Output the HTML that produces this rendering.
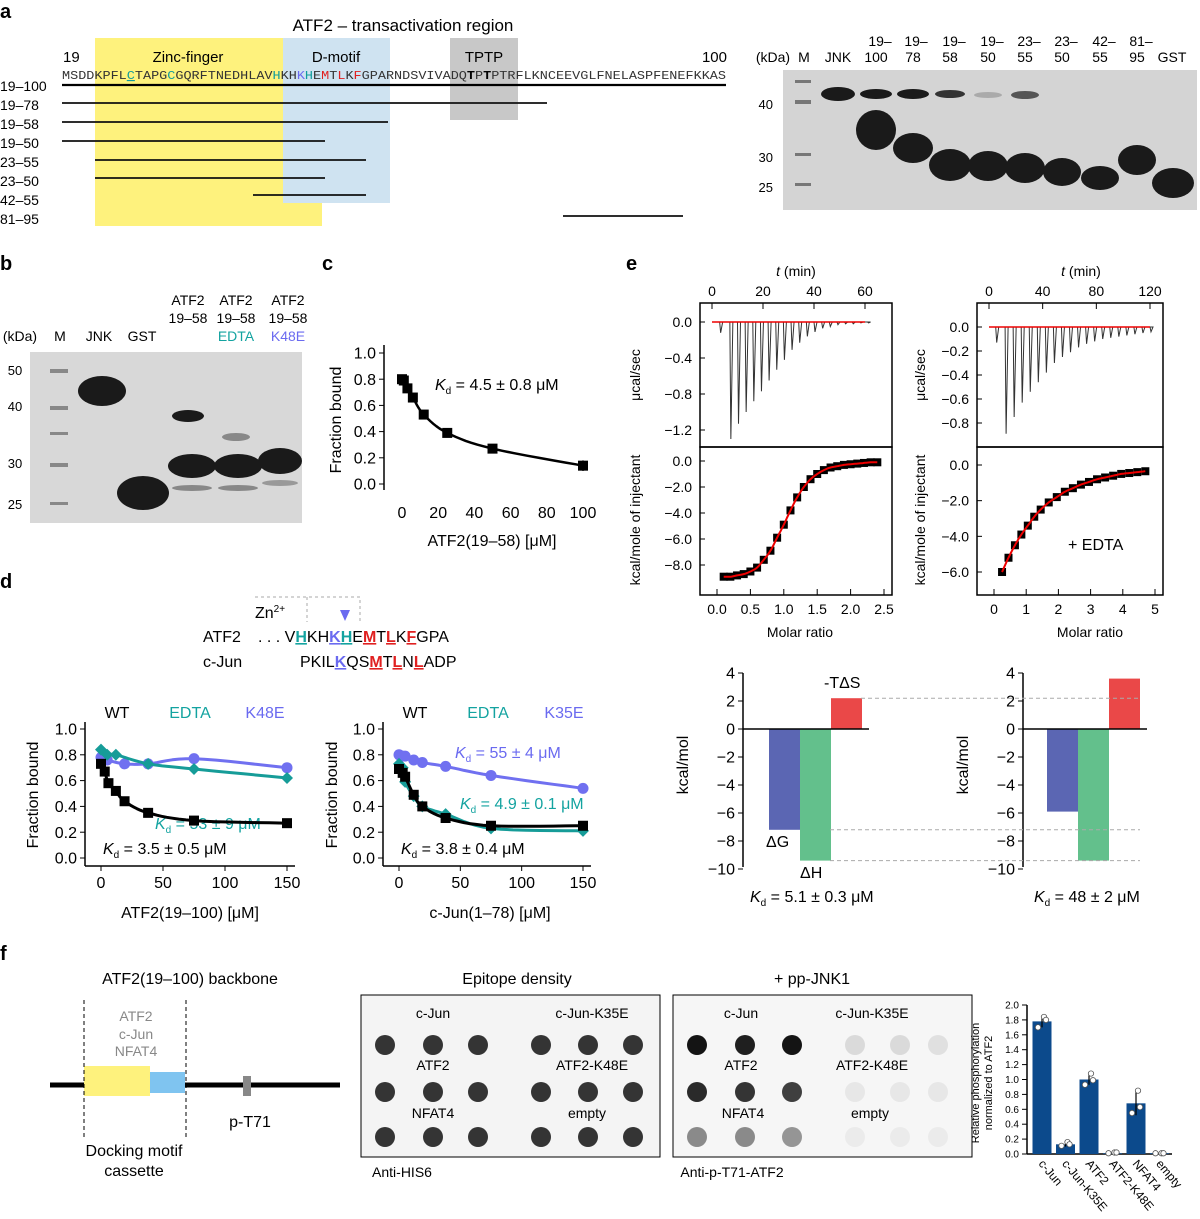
<!DOCTYPE html>
<html><head><meta charset="utf-8">
<style>
body{margin:0;background:#fff;}
svg{display:block;font-family:"Liberation Sans",Arial,sans-serif;}
.m{font-family:"Liberation Mono",monospace;}
</style></head>
<body>
<svg id="fig" width="1200" height="1219" viewBox="0 0 1200 1219">
<!-- Panel a -->
<g>
<text x="0" y="18" font-size="20" font-weight="bold">a</text>
<text x="403" y="31" font-size="17" text-anchor="middle">ATF2 – transactivation region</text>
<rect x="95" y="38" width="227" height="188" fill="#fef27d"/>
<rect x="283" y="38" width="107" height="165" fill="#cfe3f1"/>
<rect x="450" y="38" width="68" height="82" fill="#c8c8c8"/>
<text x="188" y="62" font-size="15" text-anchor="middle">Zinc-finger</text>
<text x="336" y="62" font-size="15" text-anchor="middle">D-motif</text>
<text x="484" y="62" font-size="15" text-anchor="middle">TPTP</text>
<text x="63" y="62" font-size="15">19</text>
<text x="727" y="62" font-size="15" text-anchor="end">100</text>
<text class="m" x="62" y="79" font-size="11.5" textLength="664" lengthAdjust="spacingAndGlyphs" fill="#333">MSDDKPFL<tspan fill="#109c9c" text-decoration="underline">C</tspan>TAPG<tspan fill="#109c9c">C</tspan>GQRFTNEDHLAV<tspan fill="#109c9c">H</tspan>KH<tspan fill="#6a6af0">K</tspan><tspan fill="#109c9c">H</tspan>E<tspan fill="#e02020">M</tspan>T<tspan fill="#e02020">L</tspan>K<tspan fill="#e02020">F</tspan>GPARNDSVIVADQ<tspan fill="#000" font-weight="bold">T</tspan>P<tspan fill="#000" font-weight="bold">T</tspan>PTRFLKNCEEVGLFNELASPFENEFKKAS</text>
<line x1="62" y1="85" x2="726" y2="85" stroke="#000" stroke-width="2.2"/>
<g font-size="14">
<text x="0" y="91">19–100</text><text x="0" y="110">19–78</text><text x="0" y="129">19–58</text><text x="0" y="148">19–50</text>
<text x="0" y="167">23–55</text><text x="0" y="186">23–50</text><text x="0" y="205">42–55</text><text x="0" y="224">81–95</text>
</g>
<g stroke="#111" stroke-width="1.7">
<line x1="62" y1="103" x2="547" y2="103"/><line x1="62" y1="122" x2="388" y2="122"/><line x1="62" y1="141" x2="325" y2="141"/>
<line x1="95" y1="160" x2="366" y2="160"/><line x1="95" y1="178" x2="325" y2="178"/><line x1="253" y1="195" x2="366" y2="195"/>
<line x1="563" y1="216" x2="683" y2="216"/>
</g>
<!-- gel a -->
<g font-size="14" text-anchor="middle">
<text x="773" y="62">(kDa)</text><text x="804" y="62">M</text><text x="838" y="62">JNK</text>
<text x="880" y="46">19–</text><text x="876" y="62">100</text><text x="916" y="46">19–</text><text x="913" y="62">78</text>
<text x="954" y="46">19–</text><text x="950" y="62">58</text><text x="992" y="46">19–</text><text x="988" y="62">50</text>
<text x="1029" y="46">23–</text><text x="1025" y="62">55</text><text x="1066" y="46">23–</text><text x="1062" y="62">50</text>
<text x="1104" y="46">42–</text><text x="1100" y="62">55</text><text x="1141" y="46">81–</text><text x="1137" y="62">95</text>
<text x="1172" y="62">GST</text>
</g>
<rect x="783" y="70" width="414" height="140" fill="#d4d4d4"/>
<g font-size="13" text-anchor="end"><text x="773" y="109">40</text><text x="773" y="162">30</text><text x="773" y="192">25</text></g>
<g fill="#777"><rect x="795" y="100" width="16" height="4"/><rect x="795" y="153" width="16" height="3"/><rect x="795" y="183" width="16" height="3"/><rect x="795" y="80" width="16" height="3"/></g>
<g fill="#1a1a1a">
<ellipse cx="838" cy="94" rx="17" ry="7"/><ellipse cx="876" cy="94" rx="16" ry="5"/><ellipse cx="913" cy="94" rx="16" ry="5"/>
<ellipse cx="950" cy="94" rx="15" ry="4" fill="#333"/><ellipse cx="1025" cy="95" rx="14" ry="4" fill="#555"/><ellipse cx="988" cy="95" rx="14" ry="3" fill="#aaa"/>
<ellipse cx="876" cy="130" rx="20" ry="20"/><ellipse cx="913" cy="148" rx="20" ry="15"/><ellipse cx="950" cy="165" rx="21" ry="16"/>
<ellipse cx="988" cy="166" rx="20" ry="15"/><ellipse cx="1025" cy="168" rx="20" ry="15"/><ellipse cx="1062" cy="172" rx="19" ry="14"/>
<ellipse cx="1100" cy="178" rx="19" ry="12"/><ellipse cx="1137" cy="160" rx="19" ry="15"/><ellipse cx="1173" cy="183" rx="21" ry="15"/>
</g>
</g>

<!-- Panel b -->
<g>
<text x="0" y="270" font-size="20" font-weight="bold">b</text>
<g font-size="14" text-anchor="middle">
<text x="20" y="341">(kDa)</text><text x="60" y="341">M</text><text x="99" y="341">JNK</text><text x="142" y="341">GST</text>
<text x="188" y="305">ATF2</text><text x="188" y="323">19–58</text>
<text x="236" y="305">ATF2</text><text x="236" y="323">19–58</text><text x="236" y="341" fill="#13a3a0">EDTA</text>
<text x="288" y="305">ATF2</text><text x="288" y="323">19–58</text><text x="288" y="341" fill="#6a6af0">K48E</text>
</g>
<rect x="30" y="352" width="272" height="171" fill="#d8d8d8"/>
<g font-size="13" text-anchor="middle"><text x="15" y="375">50</text><text x="15" y="411">40</text><text x="15" y="468">30</text><text x="15" y="509">25</text></g>
<g fill="#888"><rect x="50" y="369" width="18" height="4"/><rect x="50" y="406" width="18" height="4"/><rect x="50" y="463" width="18" height="4"/><rect x="50" y="502" width="18" height="3"/><rect x="50" y="432" width="18" height="3"/></g>
<g fill="#1a1a1a">
<ellipse cx="102" cy="391" rx="24" ry="15"/><ellipse cx="143" cy="493" rx="26" ry="17"/>
<ellipse cx="188" cy="416" rx="16" ry="6"/><ellipse cx="236" cy="437" rx="14" ry="4" fill="#888"/>
<ellipse cx="192" cy="466" rx="24" ry="12"/><ellipse cx="238" cy="466" rx="24" ry="12"/><ellipse cx="280" cy="461" rx="22" ry="13"/>
<ellipse cx="192" cy="488" rx="20" ry="3" fill="#888"/><ellipse cx="238" cy="488" rx="20" ry="3" fill="#888"/><ellipse cx="280" cy="483" rx="18" ry="3" fill="#999"/>
</g>
</g>

<!-- Panel c -->
<g id="pc">
<text x="322" y="270" font-size="20" font-weight="bold">c</text>
<text transform="translate(341,420) rotate(-90)" font-size="16" text-anchor="middle">Fraction bound</text>
<text x="492" y="546" font-size="16" text-anchor="middle">ATF2(19–58) [μM]</text>
<text x="435" y="390" font-size="16"><tspan font-style="italic">K</tspan><tspan font-size="10" dy="4">d</tspan><tspan dy="-4"> = 4.5 ± 0.8 μM</tspan></text>
</g>

<!-- Panel d -->
<g id="pd">
<text x="0" y="588" font-size="20" font-weight="bold">d</text>
<text x="255" y="618" font-size="16">Zn<tspan font-size="10" dy="-6">2+</tspan></text>
<path d="M255 597 H360 V622 M307 597 V622" fill="none" stroke="#aaa" stroke-dasharray="3,3"/>
<path d="M340 610 L350 610 L345 621 Z" fill="#6a6af0"/>
<text x="203" y="642" font-size="16">ATF2</text>
<text x="258" y="642" font-size="16">. . . V<tspan fill="#13a3a0" font-weight="bold" text-decoration="underline">H</tspan>KH<tspan fill="#6a6af0" font-weight="bold" text-decoration="underline">K</tspan><tspan fill="#13a3a0" font-weight="bold" text-decoration="underline">H</tspan>E<tspan fill="#e02020" font-weight="bold" text-decoration="underline">M</tspan>T<tspan fill="#e02020" font-weight="bold" text-decoration="underline">L</tspan>K<tspan fill="#e02020" font-weight="bold" text-decoration="underline">F</tspan>GPA</text>
<text x="203" y="667" font-size="16">c-Jun</text>
<text x="300" y="667" font-size="16">PKIL<tspan fill="#6a6af0" font-weight="bold" text-decoration="underline">K</tspan>QS<tspan fill="#e02020" font-weight="bold" text-decoration="underline">M</tspan>T<tspan fill="#e02020" font-weight="bold" text-decoration="underline">L</tspan>N<tspan fill="#e02020" font-weight="bold" text-decoration="underline">L</tspan>ADP</text>
<g font-size="16" text-anchor="middle">
<text x="117" y="718">WT</text><text x="190" y="718" fill="#13a3a0">EDTA</text><text x="265" y="718" fill="#6a6af0">K48E</text>
<text x="415" y="718">WT</text><text x="488" y="718" fill="#13a3a0">EDTA</text><text x="564" y="718" fill="#6a6af0">K35E</text>
</g>
<text transform="translate(38,795) rotate(-90)" font-size="16" text-anchor="middle">Fraction bound</text>
<text transform="translate(337,795) rotate(-90)" font-size="16" text-anchor="middle">Fraction bound</text>
<text x="190" y="918" font-size="16" text-anchor="middle">ATF2(19–100) [μM]</text>
<text x="490" y="918" font-size="16" text-anchor="middle">c-Jun(1–78) [μM]</text>
<text x="155" y="829" font-size="16" fill="#13a3a0"><tspan font-style="italic">K</tspan><tspan font-size="10" dy="4">d</tspan><tspan dy="-4"> = 53 ± 9 μM</tspan></text>
<text x="103" y="854" font-size="16"><tspan font-style="italic">K</tspan><tspan font-size="10" dy="4">d</tspan><tspan dy="-4"> = 3.5 ± 0.5 μM</tspan></text>
<text x="455" y="758" font-size="16" fill="#6a6af0"><tspan font-style="italic">K</tspan><tspan font-size="10" dy="4">d</tspan><tspan dy="-4"> = 55 ± 4 μM</tspan></text>
<text x="460" y="809" font-size="16" fill="#13a3a0"><tspan font-style="italic">K</tspan><tspan font-size="10" dy="4">d</tspan><tspan dy="-4"> = 4.9 ± 0.1 μM</tspan></text>
<text x="401" y="854" font-size="16"><tspan font-style="italic">K</tspan><tspan font-size="10" dy="4">d</tspan><tspan dy="-4"> = 3.8 ± 0.4 μM</tspan></text>
</g>

<!-- Panel e -->
<g id="pe">
<text x="626" y="270" font-size="20" font-weight="bold">e</text>
<text x="796" y="276" font-size="14" text-anchor="middle"><tspan font-style="italic">t</tspan> (min)</text>
<text x="1081" y="276" font-size="14" text-anchor="middle"><tspan font-style="italic">t</tspan> (min)</text>
<text transform="translate(640,375) rotate(-90)" font-size="14" text-anchor="middle">μcal/sec</text>
<text transform="translate(925,375) rotate(-90)" font-size="14" text-anchor="middle">μcal/sec</text>
<text transform="translate(640,520) rotate(-90)" font-size="14" text-anchor="middle">kcal/mole of injectant</text>
<text transform="translate(925,520) rotate(-90)" font-size="14" text-anchor="middle">kcal/mole of injectant</text>
<text x="800" y="637" font-size="14" text-anchor="middle">Molar ratio</text>
<text x="1090" y="637" font-size="14" text-anchor="middle">Molar ratio</text>
<text x="1068" y="550" font-size="16">+ EDTA</text>
<text transform="translate(688,765) rotate(-90)" font-size="16" text-anchor="middle">kcal/mol</text>
<text transform="translate(968,765) rotate(-90)" font-size="16" text-anchor="middle">kcal/mol</text>
<text x="824" y="688" font-size="16">-TΔS</text>
<text x="766" y="847" font-size="16">ΔG</text>
<text x="800" y="878" font-size="16">ΔH</text>
<text x="750" y="902" font-size="16"><tspan font-style="italic">K</tspan><tspan font-size="10" dy="4">d</tspan><tspan dy="-4"> = 5.1 ± 0.3 μM</tspan></text>
<text x="1034" y="902" font-size="16"><tspan font-style="italic">K</tspan><tspan font-size="10" dy="4">d</tspan><tspan dy="-4"> = 48 ± 2 μM</tspan></text>
</g>

<!-- Panel f -->
<g id="pf">
<text x="0" y="960" font-size="20" font-weight="bold">f</text>
<text x="190" y="984" font-size="16" text-anchor="middle">ATF2(19–100) backbone</text>
<g font-size="14" text-anchor="middle" fill="#888"><text x="136" y="1021">ATF2</text><text x="136" y="1039">c-Jun</text><text x="136" y="1056">NFAT4</text></g>
<line x1="50" y1="1085" x2="340" y2="1085" stroke="#000" stroke-width="5"/>
<rect x="84" y="1066" width="66" height="30" fill="#fef27d"/>
<rect x="150" y="1072" width="35" height="21" fill="#7fc4f0"/>
<rect x="243" y="1076" width="8" height="20" fill="#888"/>
<line x1="84" y1="1000" x2="84" y2="1140" stroke="#000" stroke-dasharray="4,3"/>
<line x1="186" y1="1000" x2="186" y2="1140" stroke="#000" stroke-dasharray="4,3"/>
<text x="250" y="1127" font-size="16" text-anchor="middle">p-T71</text>
<text x="134" y="1156" font-size="16" text-anchor="middle">Docking motif</text>
<text x="134" y="1176" font-size="16" text-anchor="middle">cassette</text>
<text x="517" y="984" font-size="16" text-anchor="middle">Epitope density</text>
<text x="812" y="984" font-size="16" text-anchor="middle">+ pp-JNK1</text>
<rect x="361" y="995" width="299" height="162" fill="#f4f4f4" stroke="#000"/>
<rect x="673" y="995" width="299" height="162" fill="#f6f6f6" stroke="#000"/>
<g font-size="14" text-anchor="middle">
<text x="433" y="1018">c-Jun</text><text x="592" y="1018">c-Jun-K35E</text><text x="433" y="1070">ATF2</text><text x="592" y="1070">ATF2-K48E</text><text x="433" y="1118">NFAT4</text><text x="587" y="1118">empty</text>
<text x="741" y="1018">c-Jun</text><text x="872" y="1018">c-Jun-K35E</text><text x="741" y="1070">ATF2</text><text x="872" y="1070">ATF2-K48E</text><text x="743" y="1118">NFAT4</text><text x="870" y="1118">empty</text>
<text x="402" y="1177">Anti-HIS6</text><text x="732" y="1177">Anti-p-T71-ATF2</text>
</g>
<text transform="translate(979,1083) rotate(-90)" font-size="11" text-anchor="middle">Relative phosphorylation</text>
<text transform="translate(992,1083) rotate(-90)" font-size="11" text-anchor="middle">normalized to ATF2</text>
</g>
</svg>
<script>
const NS='http://www.w3.org/2000/svg';
const svg=document.getElementById('fig');
function mk(tag,a,p){const e=document.createElementNS(NS,tag);for(const k in a)e.setAttribute(k,a[k]);(p||svg).appendChild(e);return e;}

// ---- data ----
const cConc=[0,1,3,6,12,25,50,100];
const cBound=[0.80,0.79,0.73,0.66,0.53,0.39,0.27,0.14];
const cTicksX=[0,20,40,60,80,100];
const cTicksY=[0.0,0.2,0.4,0.6,0.8,1.0];

const d1Conc=[0,3,6,12,19,38,75,150];
const d1WT=[0.73,0.67,0.58,0.52,0.44,0.35,0.29,0.27];
const d1EDTAconc=[0,5,12,38,75,150];
const d1EDTA=[0.84,0.80,0.80,0.73,0.69,0.62];
const d1K48Econc=[0,5,19,38,75,150];
const d1K48E=[0.78,0.76,0.73,0.73,0.77,0.70];
const d2Conc=[0,3,5,12,19,38,75,150];
const d2WT=[0.69,0.66,0.63,0.49,0.40,0.31,0.25,0.25];
const d2EDTA=[0.73,0.70,0.59,0.48,0.40,0.34,0.23,0.21];
const d2K35E=[0.80,0.79,0.79,0.76,0.74,0.71,0.64,0.54];
const dTicksX=[0,50,100,150];
const dTicksY=[0.0,0.2,0.4,0.6,0.8,1.0];

const itc1Time=[3,7,10,13,16,19,22,25,28,31,34,37,40,43,46,49,52,55,58,61];
const itc1Peak=[-0.12,-1.3,-1.13,-1.0,-0.88,-0.77,-0.65,-0.53,-0.42,-0.31,-0.23,-0.16,-0.11,-0.07,-0.05,-0.03,-0.02,-0.02,-0.01,-0.01];
const itc2Time=[5,12,18,24,30,36,42,48,54,60,66,72,78,84,90,96,102,108,114,120];
const itc2Peak=[-0.13,-0.89,-0.75,-0.63,-0.54,-0.46,-0.38,-0.30,-0.25,-0.21,-0.17,-0.14,-0.12,-0.10,-0.09,-0.08,-0.07,-0.06,-0.05,-0.04];
const itc1Ratio=[0.1,0.2,0.3,0.4,0.5,0.6,0.7,0.8,0.9,1.0,1.1,1.2,1.3,1.4,1.5,1.6,1.7,1.8,1.9,2.0,2.1,2.2,2.3,2.4];
const itc1Heat=[-8.9,-8.9,-8.8,-8.7,-8.5,-8.2,-7.6,-6.9,-5.9,-4.9,-3.8,-2.8,-2.0,-1.4,-1.0,-0.7,-0.5,-0.4,-0.3,-0.25,-0.2,-0.15,-0.1,-0.1];
const itc2Ratio=[0.25,0.45,0.65,0.85,1.05,1.25,1.45,1.7,1.95,2.2,2.45,2.7,2.95,3.2,3.45,3.7,3.95,4.2,4.45,4.7];
const itc2Heat=[-6.0,-5.2,-4.5,-3.9,-3.4,-2.9,-2.5,-2.1,-1.8,-1.5,-1.3,-1.1,-0.95,-0.8,-0.7,-0.6,-0.5,-0.45,-0.4,-0.35];

const thermoTerms=['dG','dH','-TdS'];
const thermoWT=[-7.2,-9.4,2.2];
const thermoEDTA=[-5.9,-9.4,3.6];
const thermoTicks=[4,2,0,-2,-4,-6,-8,-10];

const fCats=['c-Jun','c-Jun-K35E','ATF2','ATF2-K48E','NFAT4','empty'];
const fVals=[1.78,0.13,1.0,0.01,0.68,0.01];
const fErr=[0.08,0.03,0.07,0.01,0.16,0.01];
const fRep1=[1.84,0.16,1.08,0.02,0.85,0.01];
const fRep2=[1.80,0.13,0.99,0.02,0.63,0.01];
const fRep3=[1.70,0.11,0.93,0.01,0.55,0.01];
const fTicks=[0,0.2,0.4,0.6,0.8,1.0,1.2,1.4,1.6,1.8,2.0];

const blot1=[[0.85,0.85,0.85,0.85,0.85,0.85],[0.85,0.85,0.85,0.85,0.85,0.85],[0.85,0.85,0.85,0.85,0.85,0.85]];
const blot2=[[1,0.95,1,0.08,0.08,0.05],[0.9,0.85,0.8,0.02,0.02,0.02],[0.45,0.45,0.4,0.0,0.0,0.0]];

// ---- helpers ----
function lin(d0,d1,r0,r1){return v=>r0+(v-d0)*(r1-r0)/(d1-d0);}
function axisBox(x0,y0,x1,y1,name){const r=mk('rect',{x:x0,y:y0,width:x1-x0,height:y1-y0,fill:'none',stroke:'#000','stroke-width':1.5});

}
function curvePath(xs,ys,X,Y,color,name,w){let d='';xs.forEach((v,i)=>{d+=(i?'L':'M')+X(v).toFixed(1)+' '+Y(ys[i]).toFixed(1);});
const p=mk('path',{d:d,fill:'none',stroke:color,'stroke-width':w||2.5,'stroke-linejoin':'round'});

}
function smooth(xs,ys,n){
const ox=[],oy=[];for(let i=0;i<xs.length-1;i++){const p0=i?i-1:i,p3=i+2<xs.length?i+2:i+1;for(let k=0;k<n;k++){const t=k/n;const f=(a)=>{const P0=a[p0],P1=a[i],P2=a[i+1],P3=a[p3];return 0.5*((2*P1)+(-P0+P2)*t+(2*P0-5*P1+4*P2-P3)*t*t+(-P0+3*P1-3*P2+P3)*t*t*t);};ox.push(f(xs));oy.push(f(ys));}}ox.push(xs[xs.length-1]);oy.push(ys[ys.length-1]);return [ox,oy];}
function leftAxis(x,y0,y1,ticks,Y,name,fs,fmt){const l=mk('line',{x1:x,y1:y0,x2:x,y2:y1,stroke:'#000','stroke-width':1.5});


ticks.forEach(t=>{mk('line',{x1:x-5,y1:Y(t),x2:x,y2:Y(t),stroke:'#000'});const tx=mk('text',{x:x-8,y:Y(t)+fs*0.35,'font-size':fs,'text-anchor':'end'});tx.textContent=fmt(t);

});}
function bottomAxis(y,x0,x1,ticks,X,name,fs,fmt,below){const l=mk('line',{x1:x0,y1:y,x2:x1,y2:y,stroke:'#000','stroke-width':1.5});


ticks.forEach(t=>{mk('line',{x1:X(t),y1:y,x2:X(t),y2:y+(below===false?-5:5),stroke:'#000'});const tx=mk('text',{x:X(t),y:below===false?y-8:y+fs+6,'font-size':fs,'text-anchor':'middle'});tx.textContent=fmt(t);

});}
const neg=v=>v<0?'−'+Math.abs(v).toFixed(1):v.toFixed(1);

// ---- panel c ----
{const X=lin(0,100,402,583),Y=lin(0,1,484,353);
leftAxis(384,345,490,cTicksY,Y,'c-y-axis',16,v=>v.toFixed(1));
cTicksX.forEach(t=>{const tx=mk('text',{x:X(t),y:518,'font-size':16,'text-anchor':'middle'});tx.textContent=t;

});
const [sx,sy]=smooth(cConc,cBound,8);curvePath(sx,sy,X,Y,'#000','c-fit-curve',2.5);
cConc.forEach((c,i)=>{const r=mk('rect',{x:X(c)-5,y:Y(cBound[i])-5,width:10,height:10,fill:'#000'});

});
mk('line',{x1:X(100),y1:Y(0.18),x2:X(100),y2:Y(0.10),stroke:'#000','stroke-width':1.5});}

// ---- panel d ----
function dChart(x0,x1,sets,nm){const X=lin(0,150,x0,x1),Y=lin(0,1,858,729);
leftAxis(x0-16,722,866,dTicksY,Y,nm+'-y-axis',16,v=>v.toFixed(1));
bottomAxis(866,x0-16,x1+8,dTicksX,X,nm+'-x-axis',16,v=>v,true);
sets.forEach(s=>{const [sx,sy]=smooth(s.x,s.y,8);curvePath(sx,sy,X,Y,s.c,nm+'-'+s.n+'-fit',3);
s.x.forEach((c,i)=>{let e;if(s.shape==='sq'){e=mk('rect',{x:X(c)-5,y:Y(s.y[i])-5,width:10,height:10,fill:s.c});}else if(s.shape==='dia'){const cx=X(c),cy=Y(s.y[i]);e=mk('path',{d:`M${cx} ${cy-6}L${cx+6} ${cy}L${cx} ${cy+6}L${cx-6} ${cy}Z`,fill:s.c});}else{e=mk('circle',{cx:X(c),cy:Y(s.y[i]),r:5.5,fill:s.c});}

});});}
dChart(101,287,[{x:d1K48Econc,y:d1K48E,c:'#7070f0',n:'k48e',shape:'c'},{x:d1EDTAconc,y:d1EDTA,c:'#169c98',n:'edta',shape:'dia'},{x:d1Conc,y:d1WT,c:'#000',n:'wt',shape:'sq'}],'d1');
dChart(399,583,[{x:d2Conc,y:d2K35E,c:'#7070f0',n:'k35e',shape:'c'},{x:d2Conc,y:d2EDTA,c:'#169c98',n:'edta',shape:'dia'},{x:d2Conc,y:d2WT,c:'#000',n:'wt',shape:'sq'}],'d2');

// ---- panel e ITC ----
function itc(bx0,bx1,tMax,tx1,peaks,times,yTop,yTicks,Yr,ratio,heat,rMax,rTicks,hTicks,Yh,nm,tTicks){
axisBox(bx0,303,bx1,447,nm+'-raw-box');axisBox(bx0,447,bx1,595,nm+'-heat-box');
const T=lin(0,tMax,bx0+12,tx1);
tTicks.forEach(t=>{mk('line',{x1:T(t),y1:303,x2:T(t),y2:309,stroke:'#000'});const e=mk('text',{x:T(t),y:296,'font-size':14,'text-anchor':'middle'});e.textContent=t;

});
yTicks.forEach(t=>{mk('line',{x1:bx0,y1:Yr(t),x2:bx0+5,y2:Yr(t),stroke:'#000'});const e=mk('text',{x:bx0-8,y:Yr(t)+5,'font-size':14,'text-anchor':'end'});e.textContent=neg(t);

});
let d='M'+T(0)+' '+Yr(0);times.forEach((t,i)=>{d+=`L${T(t)} ${Yr(0)}L${T(t)+1} ${Yr(peaks[i])}L${T(t)+3} ${Yr(0)}`;});d+=`L${T(tMax)} ${Yr(0)}`;
const p=mk('path',{d:d,fill:'none',stroke:'#333','stroke-width':1});


const b=mk('line',{x1:T(0),y1:Yr(0),x2:T(tMax),y2:Yr(0),stroke:'#e00','stroke-width':1.5});


const R=lin(0,rMax,bx0+17,bx1-8);
rTicks.forEach(t=>{mk('line',{x1:R(t),y1:595,x2:R(t),y2:589,stroke:'#000'});const e=mk('text',{x:R(t),y:614,'font-size':14,'text-anchor':'middle'});e.textContent=t.toFixed(rMax>3?0:1);

});
hTicks.forEach(t=>{mk('line',{x1:bx0,y1:Yh(t),x2:bx0+5,y2:Yh(t),stroke:'#000'});const e=mk('text',{x:bx0-8,y:Yh(t)+5,'font-size':14,'text-anchor':'end'});e.textContent=neg(t);

});
ratio.forEach((r,i)=>{const e=mk('rect',{x:R(r)-4,y:Yh(heat[i])-4,width:8,height:8,fill:'#000'});

});
const [sx,sy]=smooth(ratio,heat,6);curvePath(sx,sy,R,Yh,'#e00',nm+'-fit',2);}
itc(700,892,60,865,itc1Peak,itc1Time,303,[0.0,-0.4,-0.8,-1.2],lin(0,-1.2,322,430),itc1Ratio,itc1Heat,2.5,[0,0.5,1.0,1.5,2.0,2.5],[0,-2,-4,-6,-8],lin(0,-8,461,565),'itc1',[0,20,40,60]);
itc(977,1163,120,1150,itc2Peak,itc2Time,303,[0.0,-0.2,-0.4,-0.6,-0.8],lin(0,-0.8,327,423),itc2Ratio,itc2Heat,5,[0,1,2,3,4,5],[0,-2,-4,-6],lin(0,-6,465,572),'itc2',[0,40,80,120]);

// ---- thermo bars ----
const TY=lin(0,4,729,673);
const tColors=['#5b66b3','#63c08c','#ea4848'];
function thermo(ax,x0,vals,nm){leftAxis(ax,673,867,thermoTicks,TY,nm+'-y-axis',16,v=>v<0?'−'+Math.abs(v):String(v));
vals.forEach((v,i)=>{const r=mk('rect',{x:x0+i*31,y:Math.min(TY(0),TY(v)),width:31,height:Math.abs(TY(v)-TY(0)),fill:tColors[i]});

});
const z=mk('line',{x1:ax,y1:TY(0),x2:x0+100,y2:TY(0),stroke:'#000','stroke-width':1.5});

}
thermo(743,769,thermoWT,'thermo-wt');
thermo(1023,1047,thermoEDTA,'thermo-edta');
[thermoWT[2],thermoWT[0],thermoWT[1]].forEach((v,i)=>{const l=mk('line',{x1:i?830:861,y1:TY(v),x2:1140,y2:TY(v),stroke:'#aaa','stroke-dasharray':'4,3'});

});

// ---- dot blots ----
const blotX1=[385,433,478,541,588,633],blotX2=[697,745,792,855,900,938],blotRows=[1045,1092,1137];
function blot(xs,vals,nm){vals.forEach((row,ri)=>row.forEach((v,ci)=>{const g=Math.round(235-v*215);const c=mk('circle',{cx:xs[ci],cy:blotRows[ri],r:10,fill:`rgb(${g},${g},${g})`});

}));}
blot(blotX1,blot1,'his6');blot(blotX2,blot2,'pt71');

// ---- panel f bars ----
{const Y=lin(0,2,1154,1005),bx=1042,step=23.5;
leftAxis(1027,1005,1154,fTicks,Y,'f-y-axis',10,v=>v.toFixed(1));
const xl=mk('line',{x1:1027,y1:1154,x2:1172,y2:1154,stroke:'#000','stroke-width':1.5});


fVals.forEach((v,i)=>{const cx=bx+i*step;
const r=mk('rect',{x:cx-9.5,y:Y(v),width:19,height:Y(0)-Y(v),fill:'#0c4a8c'});


mk('line',{x1:cx,y1:Y(v-fErr[i]),x2:cx,y2:Y(v+fErr[i]),stroke:'#000','stroke-width':1.2});
[fRep1[i],fRep2[i],fRep3[i]].forEach((rv,k)=>{const d=mk('circle',{cx:cx+[-2,4,-4][k]*(k===0?-1:1),cy:Y(rv),r:2.7,fill:'#fff',stroke:'#555','stroke-width':0.8});

});
const t=mk('text',{x:cx-4,y:1164,'font-size':12,'text-anchor':'start',transform:`rotate(50 ${cx-4} 1164)`});t.textContent=fCats[i];

});}
</script>
</body></html>
